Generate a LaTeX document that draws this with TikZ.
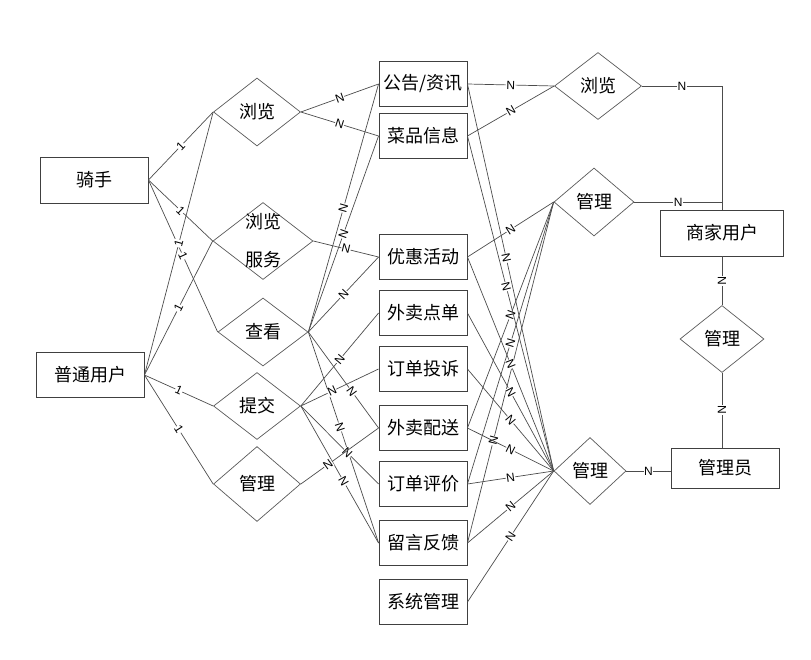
\documentclass[tikz,border=0pt]{standalone}
\usepackage{fontspec}
\setmainfont{Liberation Sans}
\newfontfamily\cjk{Noto Sans CJK SC}
\usetikzlibrary{shapes.geometric}

\begin{document}
\begin{tikzpicture}[x=1pt, y=-1pt,
  ent/.style={draw=black!75, line width=0.9pt, minimum width=88pt, minimum height=45pt, inner sep=0pt, font=\cjk\fontsize{18}{22}\selectfont},
  rel/.style={draw=black!65, line width=0.7pt, diamond, inner sep=0pt, font=\cjk\fontsize{18}{22}\selectfont},
  lnk/.style={draw=black!70, line width=0.7pt},
  card/.style={sloped, fill=white, inner sep=0.4pt, font=\fontsize{12}{12}\selectfont}]
  \useasboundingbox (0,0) rectangle (811,660);
  \node[ent, minimum width=108pt, minimum height=46pt] (rider) at (94,180) {骑手};
  \node[ent, minimum width=108pt] (user) at (90,375) {普通用户};
  \node[ent, minimum width=123pt, minimum height=46pt] (merchant) at (722,233) {商家用户};
  \node[ent, minimum width=108pt, minimum height=40pt] (admin) at (725,468) {管理员};
  \node[ent] (notice) at (423,84) {公告/资讯};
  \node[ent] (dish) at (423,136) {菜品信息};
  \node[ent] (promo) at (423,257) {优惠活动};
  \node[ent] (order) at (423,313) {外卖点单};
  \node[ent] (complain) at (423,369) {订单投诉};
  \node[ent] (deliver) at (423,428) {外卖配送};
  \node[ent] (review) at (423,484) {订单评价};
  \node[ent] (feedback) at (423,543) {留言反馈};
  \node[ent] (system) at (423,602) {系统管理};
  \node[rel, minimum width=87pt, minimum height=68pt] (browseA) at (257,112) {浏览};
  \node[rel, minimum width=100pt, minimum height=77pt] (browseB) at (263,241) {\smash{\raisebox{-6.5pt}{\begin{tabular}{@{}c@{}}浏览\\[16pt]服务\end{tabular}}}};
  \node[rel, minimum width=90pt, minimum height=68pt] (view) at (263,332) {查看};
  \node[rel, minimum width=87pt, minimum height=67pt] (submit) at (257,406) {提交};
  \node[rel, minimum width=87pt, minimum height=75pt] (manageA) at (257,484) {管理};
  \node[rel, minimum width=87pt, minimum height=67pt] (browseC) at (598,86) {浏览};
  \node[rel, minimum width=80pt, minimum height=68pt] (manageB) at (594,202) {管理};
  \node[rel, minimum width=72pt, minimum height=67pt] (manageC) at (590,471) {管理};
  \node[rel, minimum width=84pt, minimum height=67pt] (manageD) at (722,339) {管理};
  \coordinate (tee) at (manageB.east -| merchant.north);
  \foreach \a/\b in {rider/browseA, rider/browseB, rider/view, user/browseA, user/browseB, user/submit, user/manageA}
    \draw[lnk] (\a.east) -- node[card] {1} (\b.west);
  \foreach \a/\b/\p in {browseA/notice/.5, browseA/dish/.5, browseB/promo/.5, view/notice/.5, view/dish/.5, view/promo/.5, view/deliver/.62, view/feedback/.45, submit/order/.5, submit/complain/.4, submit/review/.6, submit/feedback/.55, manageA/deliver/.35}
    \draw[lnk] (\a.east) -- node[card, pos=\p] {N} (\b.west);
  \foreach \a in {notice, dish} \draw[lnk] (\a.east) -- node[card] {N} (browseC.west);
  \foreach \a/\p in {promo/.5, deliver/.5, review/.5, feedback/.3} \draw[lnk] (\a.east) -- node[card, pos=\p] {N} (manageB.west);
  \foreach \a/\p in {notice/.45, dish/.45, promo/.5, order/.5, complain/.5, deliver/.5, review/.5, feedback/.5, system/.5}
    \draw[lnk] (\a.east) -- node[card, pos=\p] {N} (manageC.west);
  \draw[lnk] (browseC.east) -- node[card] {N} (browseC.east -| tee) -- (merchant.north);
  \draw[lnk] (manageB.east) -- node[card] {N} (tee);
  \draw[lnk] (merchant.south) -- node[card] {N} (manageD.north);
  \draw[lnk] (manageD.south) -- node[card] {N} (manageD.south |- admin.north);
  \draw[lnk] (manageC.east) -- node[card] {N} (manageC.east -| admin.west);
\end{tikzpicture}
\end{document}
